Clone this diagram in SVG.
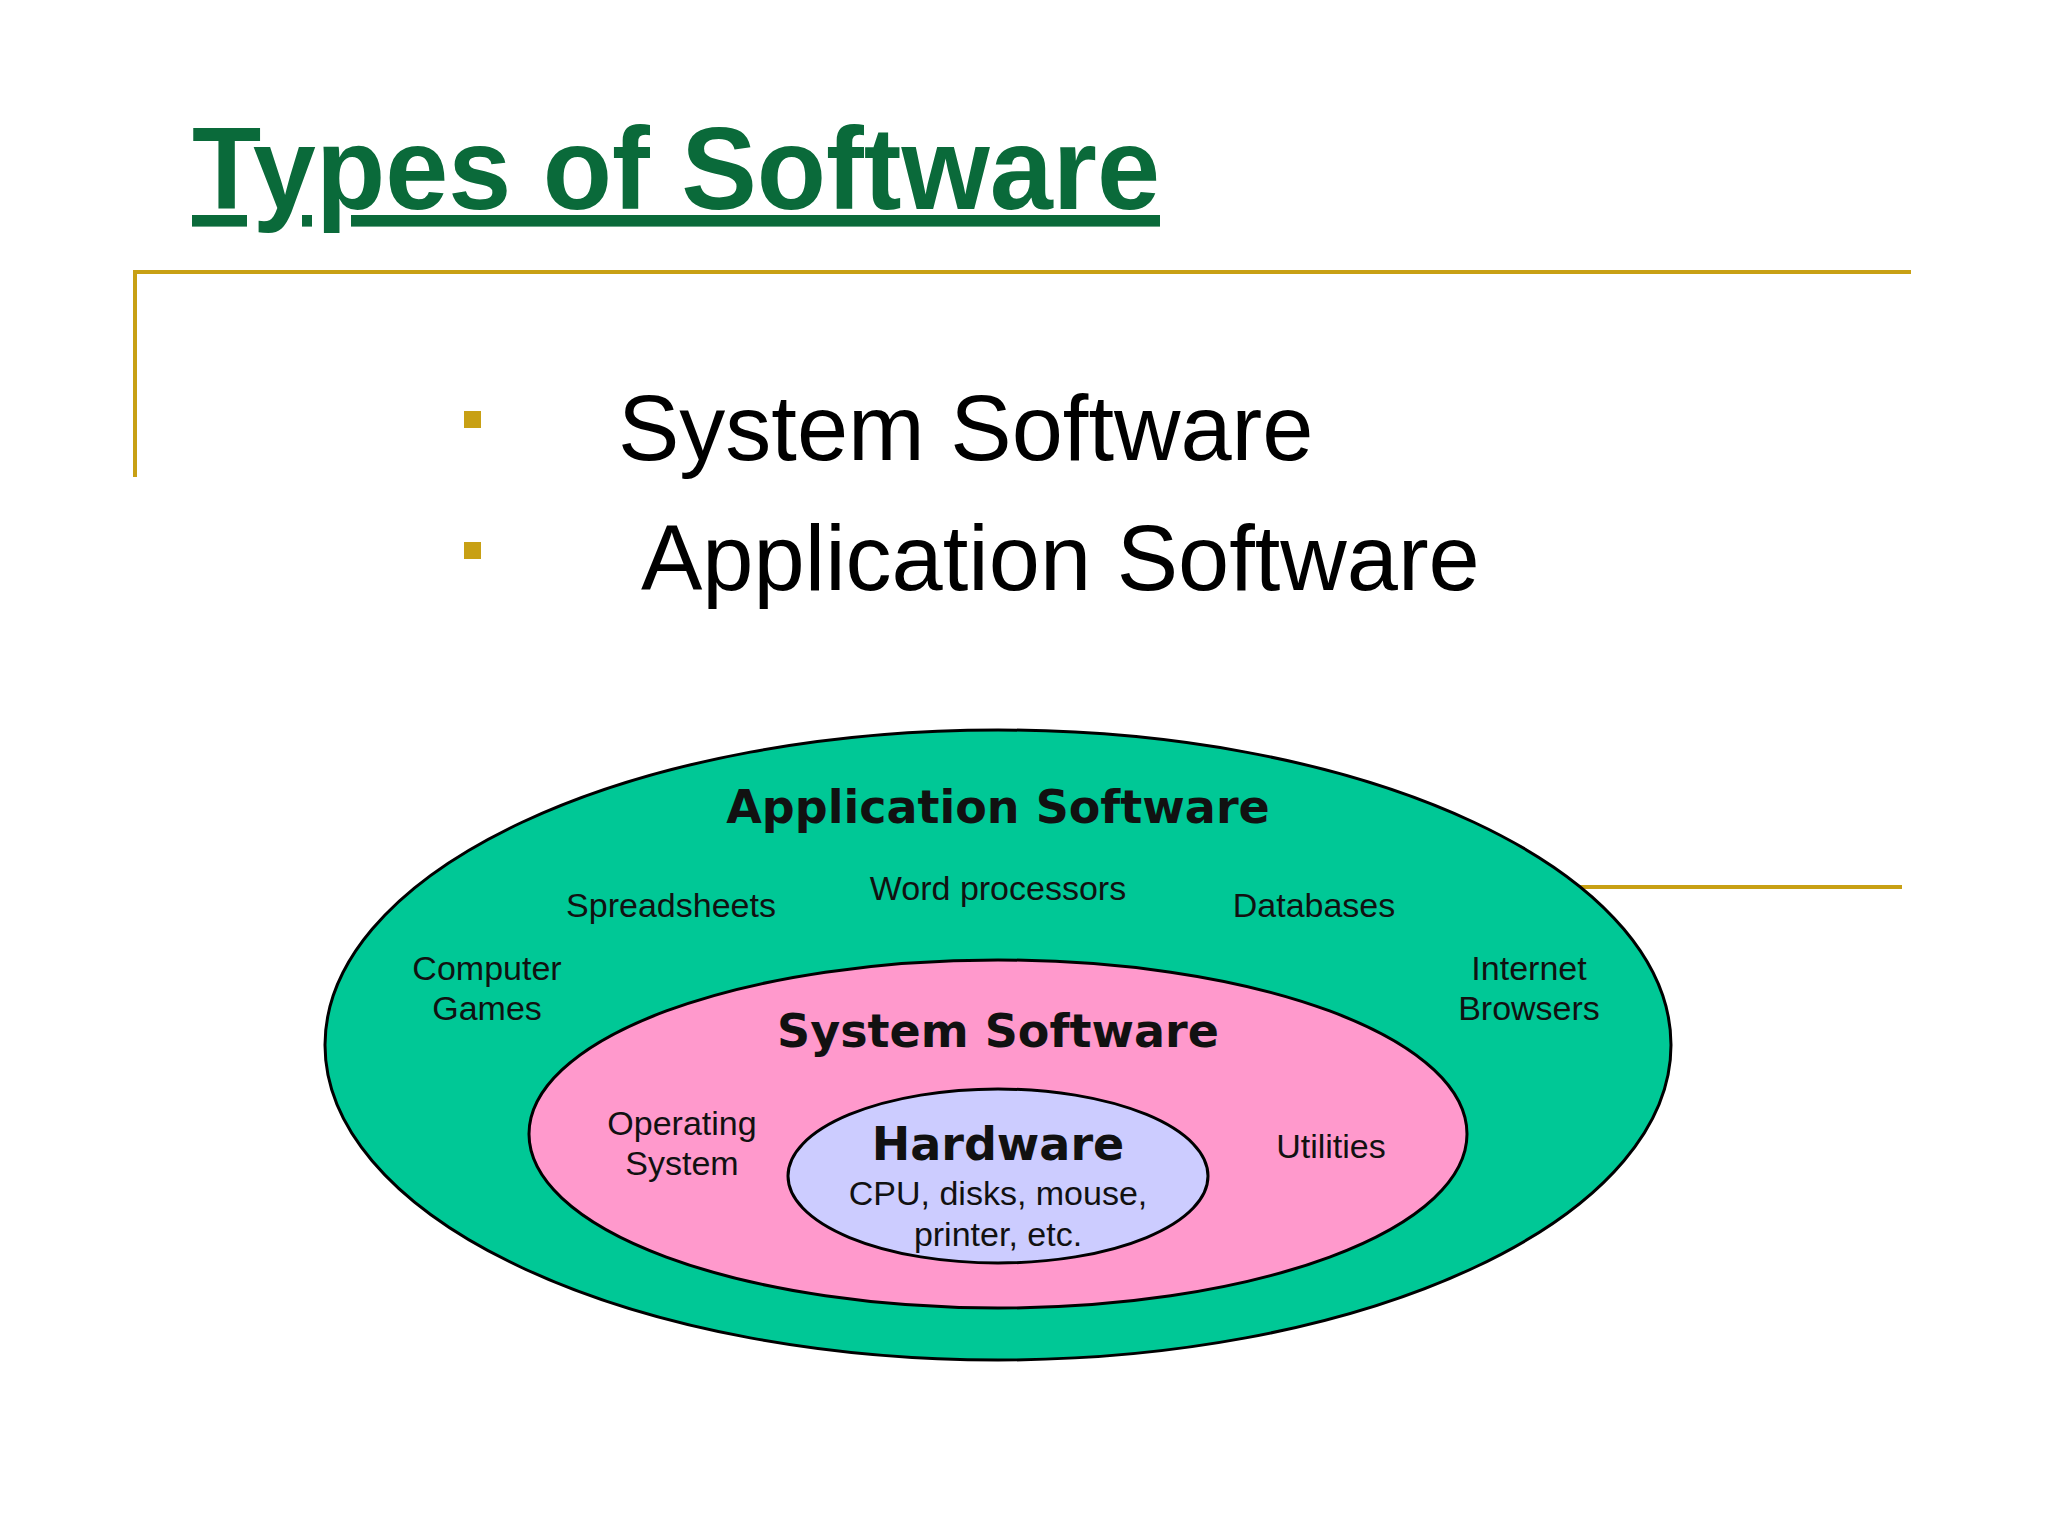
<svg xmlns="http://www.w3.org/2000/svg" width="2048" height="1536" viewBox="0 0 2048 1536">
<style>
.gold{stroke:#c8a014;stroke-width:4;fill:none}
.lbl{font-family:"Liberation Sans",Arial,sans-serif;font-size:34px;fill:#111;text-anchor:middle}
.hd{font-family:"DejaVu Sans",sans-serif;font-weight:bold;font-size:46px;fill:#111;text-anchor:middle}
.ring{stroke:#000;stroke-width:3}
</style>
<rect width="2048" height="1536" fill="#fff"/>
<text x="192" y="209" font-family="Liberation Sans,Arial,sans-serif" font-weight="bold" font-size="116" fill="#0a6a3a" text-decoration="underline" textLength="968" lengthAdjust="spacingAndGlyphs">Types of Software</text>
<path class="gold" d="M1911 272 H135 V477"/>
<path class="gold" d="M1580 887 H1902"/>
<rect x="464" y="411" width="17" height="17" fill="#c8a014"/>
<rect x="464" y="542" width="17" height="17" fill="#c8a014"/>
<text x="618" y="460" font-family="Liberation Sans,Arial,sans-serif" font-size="92" fill="#000">System Software</text>
<text x="641" y="590" font-family="Liberation Sans,Arial,sans-serif" font-size="92" fill="#000">Application Software</text>
<g id="application">
<ellipse class="ring" cx="998" cy="1045" rx="673" ry="315" fill="#00c896"/>
<text class="hd" x="998" y="823">Application Software</text>
<text class="lbl" x="671" y="917">Spreadsheets</text>
<text class="lbl" x="998" y="900">Word processors</text>
<text class="lbl" x="1314" y="917">Databases</text>
<text class="lbl" x="487" y="980">Computer</text>
<text class="lbl" x="487" y="1020">Games</text>
<text class="lbl" x="1529" y="980">Internet</text>
<text class="lbl" x="1529" y="1020">Browsers</text>
</g>
<g id="system">
<ellipse class="ring" cx="998" cy="1134" rx="469" ry="174" fill="#ff99cc"/>
<text class="hd" x="998" y="1047">System Software</text>
<text class="lbl" x="682" y="1135">Operating</text>
<text class="lbl" x="682" y="1175">System</text>
<text class="lbl" x="1331" y="1158">Utilities</text>
</g>
<g id="hardware">
<ellipse class="ring" cx="998" cy="1176" rx="210" ry="87" fill="#ccccff"/>
<text class="hd" x="998" y="1160">Hardware</text>
<text class="lbl" x="998" y="1205">CPU, disks, mouse,</text>
<text class="lbl" x="998" y="1246">printer, etc.</text>
</g>
<g id="connectors"/>
</svg>
